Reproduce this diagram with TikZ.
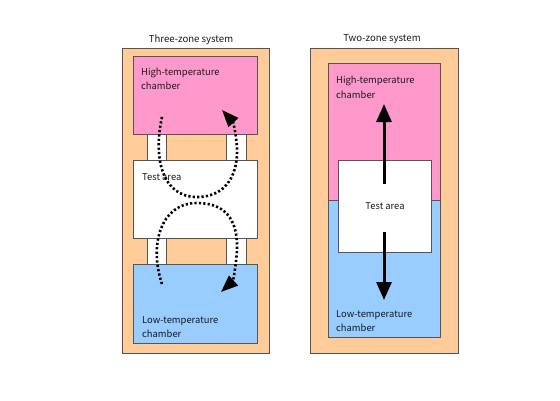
\documentclass[tikz,border=0pt]{standalone}
\usepackage{fontspec}
\setmainfont{Noto Sans CJK JP}
\usetikzlibrary{arrows.meta}
\definecolor{outerc}{HTML}{FFCC99}
\definecolor{hotc}{HTML}{FF99CC}
\definecolor{coldc}{HTML}{99CCFF}
\definecolor{edgec}{HTML}{555555}
\tikzset{
  box/.style={draw=edgec, line width=0.8pt},
  lbl/.style={font=\fontsize{9.4}{11}\selectfont, text=black!90, inner sep=0pt, anchor=base west},
  ttl/.style={font=\fontsize{9.6}{11}\selectfont, text=black!90, inner sep=0pt, anchor=base},
  dotarc/.style={line width=2.6pt, dash pattern=on 2.2pt off 2.2pt, -{Triangle[length=17pt,width=13pt]}},
  bigarrow/.style={line width=3pt, -{Triangle[length=18pt,width=15pt]}}
}
\begin{document}
\begin{tikzpicture}[x=1pt,y=-1pt]
\useasboundingbox (0,0) rectangle (560,400);
\fill[white] (0,0) rectangle (560,400);
% ---------- Three-zone system ----------
\node[ttl] (t1) at (191,42) {Three-zone system};
\draw[box, fill=outerc] (122,48) rectangle (269,353);
\draw[box, fill=white] (147,133) rectangle (166,161);
\draw[box, fill=white] (226,133) rectangle (246,161);
\draw[box, fill=white] (147,237) rectangle (166,265);
\draw[box, fill=white] (226,237) rectangle (246,265);
\draw[box, fill=hotc] (133,56) rectangle (257,134);
\draw[box, fill=white] (133,160) rectangle (257,238);
\draw[box, fill=coldc] (133,264) rectangle (257,343);
\node[lbl] (h1) at (141,75) {High-temperature};
\node[lbl] (h1b) at (141,89) {chamber};
\node[lbl] (a1) at (142,180) {Test area};
\node[lbl] (l1) at (142,323) {Low-temperature};
\node[lbl] (l1b) at (142,337) {chamber};
\coordinate (u0) at (162,117);
\coordinate (um) at (197,197);
\coordinate (ur) at (237,148);
\coordinate (u1) at (222,110);
\coordinate (d0) at (162,284);
\coordinate (dm) at (197,203);
\coordinate (dr) at (237,250);
\coordinate (d1) at (221,292);
\draw[dotarc] (u0) .. controls (153,158) and (162,197) .. (um)
  .. controls (228,197) and (238,172) .. (ur)
  .. controls (236,132) and (233,122) .. (u1);
\draw[dotarc] (d0) .. controls (149,246) and (160,203) .. (dm)
  .. controls (230,203) and (238,226) .. (dr)
  .. controls (236,266) and (233,281) .. (d1);
% ---------- Two-zone system ----------
\node[ttl] (t2) at (382,41) {Two-zone system};
\draw[box, fill=outerc] (310,48) rectangle (458,353);
\draw[box, fill=hotc] (328,63) rectangle (440,200);
\draw[box, fill=coldc] (328,200) rectangle (440,337);
\draw[box, fill=white] (338,160) rectangle (431,252);
\node[lbl] (h2) at (336,83) {High-temperature};
\node[lbl] (h2b) at (336,98) {chamber};
\node[lbl, anchor=base] (a2) at (385,209) {Test area};
\node[lbl] (l2) at (336,317) {Low-temperature};
\node[lbl] (l2b) at (336,331) {chamber};
\coordinate (p0) at (384,184);
\coordinate (p1) at (384,104);
\coordinate (q0) at (384,232);
\coordinate (q1) at (384,300);
\draw[bigarrow] (p0) -- (p1);
\draw[bigarrow] (q0) -- (q1);
\end{tikzpicture}
\end{document}
